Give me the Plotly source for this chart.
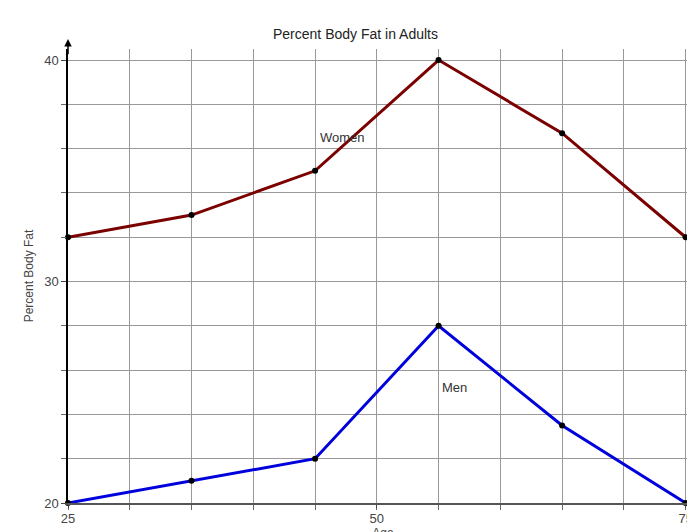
import plotly.graph_objects as go

ages = [25, 35, 45, 55, 65, 75]
women = [32, 33, 35, 40, 36.7, 32]
men = [20, 21, 22, 28, 23.5, 20]

fig = go.Figure()
fig.add_trace(go.Scatter(x=ages, y=women, mode='lines+markers', name='Women',
                         line=dict(color='#7b0000', width=3),
                         marker=dict(color='black', size=6), cliponaxis=False))
fig.add_trace(go.Scatter(x=ages, y=men, mode='lines+markers', name='Men',
                         line=dict(color='#0000dd', width=3),
                         marker=dict(color='black', size=6), cliponaxis=False))

fig.add_annotation(x=47.2, y=36.5, text='Women', showarrow=False,
                   font=dict(size=13, color='#333'))
fig.add_annotation(x=56.3, y=25.2, text='Men', showarrow=False,
                   font=dict(size=13, color='#333'))
# arrow at top of y axis
fig.add_annotation(x=25, y=40.95, ax=25, ay=40.2, axref='x', ayref='y',
                   xref='x', yref='y', text='', showarrow=True,
                   arrowhead=2, arrowsize=1, arrowwidth=1.5, arrowcolor='black')

fig.update_layout(
    title=dict(text='Percent Body Fat in Adults', x=0.5, y=0.96,
               font=dict(size=14, color='#222')),
    width=695, height=532,
    margin=dict(l=60, r=5, t=41, b=37),
    plot_bgcolor='white', paper_bgcolor='white',
    showlegend=False,
    font=dict(family='Arial, Liberation Sans', size=13, color='#444'),
)
fig.update_xaxes(range=[25, 76], tickvals=[25, 50, 75], automargin=False,
                 showgrid=True, gridcolor='#999', gridwidth=1,
                 minor=dict(dtick=5, showgrid=True, gridcolor='#999', ticklen=5, tickcolor='#666'),
                 showline=True, linecolor='#555', linewidth=1.5,
                 ticks='outside', ticklen=3, zeroline=False,
                 title=dict(text='Age', standoff=0, font=dict(size=12)))
fig.update_yaxes(range=[20, 40.5], tickvals=[20, 30, 40], automargin=False,
                 showgrid=True, gridcolor='#999', gridwidth=1,
                 minor=dict(dtick=2, showgrid=True, gridcolor='#999', ticklen=5, tickcolor='#666'),
                 showline=True, linecolor='black', linewidth=1.5,
                 ticks='outside', ticklen=5, zeroline=False,
                 title=dict(text='Percent Body Fat', standoff=8, font=dict(size=12)))

fig.write_html("out.html")
